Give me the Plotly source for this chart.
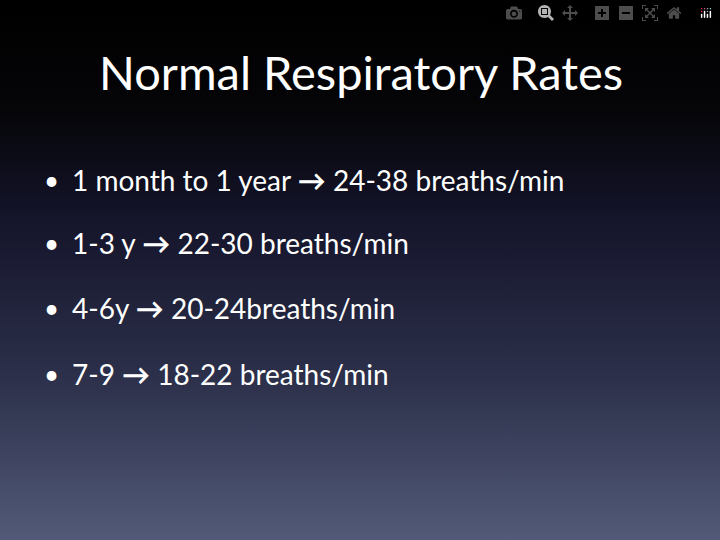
import plotly.graph_objects as go

title = "Normal Respiratory Rates"
bullets = [
    "1 month to 1 year <b>→</b> 24-38 breaths/min",
    "1-3 y <b>→</b> 22-30 breaths/min",
    "4-6y <b>→</b> 20-24breaths/min",
    "7-9 <b>→</b> 18-22 breaths/min",
]
bullet_y = [180, 243, 308, 374]

fig = go.Figure()

# background gradient: black at top to slate blue at bottom
fig.add_trace(go.Scatter(
    x=[0, 720, 720, 0, 0], y=[0, 0, 540, 540, 0],
    mode="lines", line=dict(width=0), fill="toself",
    fillgradient=dict(
        type="vertical",
        colorscale=[[0, "#525a78"], [0.3, "#2c304a"], [0.6, "#14142a"], [0.8, "#050508"], [1, "#000000"]],
    ),
    hoverinfo="skip", showlegend=False,
))

fig.add_annotation(x=361, y=72, text=title, showarrow=False,
                   font=dict(family="Lato", size=47, color="white"))

for txt, y in zip(bullets, bullet_y):
    fig.add_annotation(x=42, y=y, text="•", showarrow=False, xanchor="left",
                       font=dict(family="Lato", size=26, color="white"))
    fig.add_annotation(x=70, y=y, text=txt, showarrow=False, xanchor="left",
                       font=dict(family="Lato", size=28, color="white"))

fig.update_xaxes(range=[0, 720], visible=False)
fig.update_yaxes(range=[540, 0], visible=False)
fig.update_layout(width=720, height=540, margin=dict(l=0, r=0, t=0, b=0),
                  paper_bgcolor="black", plot_bgcolor="black")

fig.write_html("out.html",
               post_script="document.body.style.margin='0';document.body.style.background='black';")
